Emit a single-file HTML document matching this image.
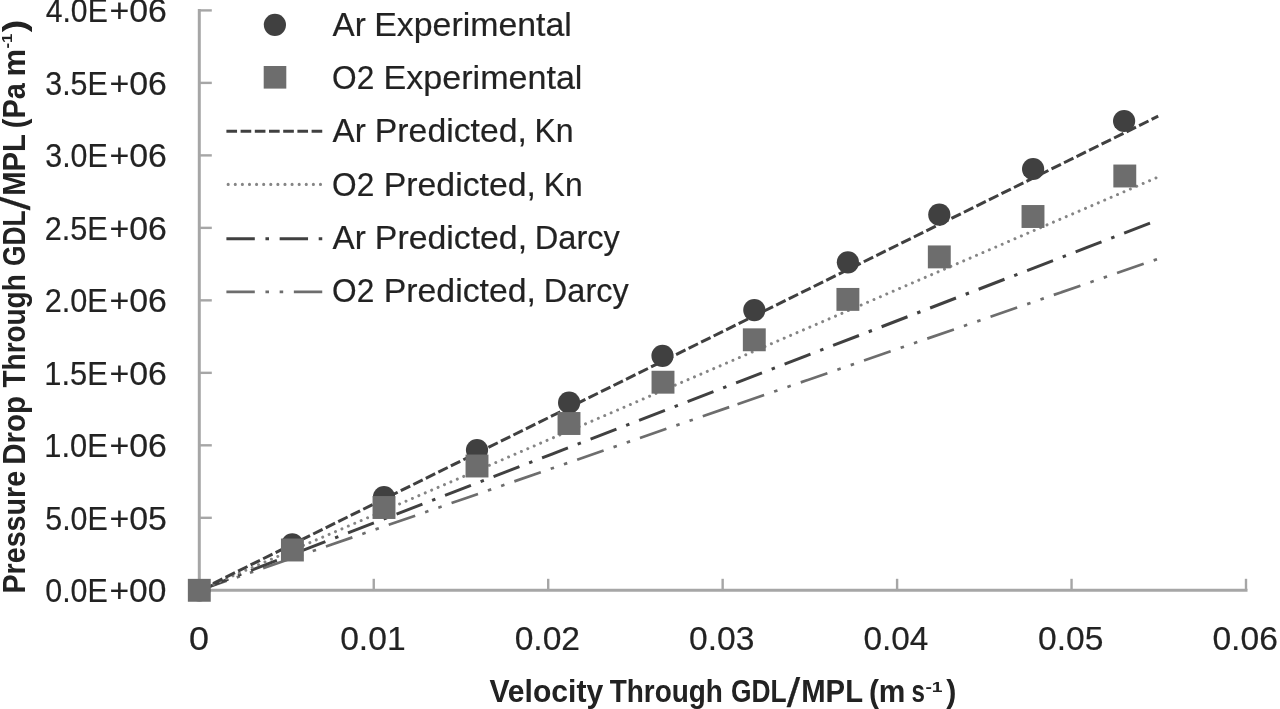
<!DOCTYPE html>
<html lang="en"><head><meta charset="utf-8"><title>Pressure Drop vs Velocity Through GDL/MPL</title>
<style>html,body{margin:0;padding:0;background:#fff;overflow:hidden}svg{display:block}</style></head>
<body>
<svg width="1280" height="709" viewBox="0 0 1280 709">
<defs><filter id="soft" x="-2%" y="-2%" width="104%" height="104%"><feGaussianBlur stdDeviation="0.7"/></filter></defs>
<rect width="100%" height="100%" fill="#fff"/>
<g filter="url(#soft)">
<g stroke="#a6a6a6" stroke-width="3" fill="none" stroke-linecap="butt">
<path d="M199.3 8.9 V591.8"/>
<path d="M197.8 590.3 H1247.5"/>
<path stroke-width="2.4" d="M199.3 517.81 H211.8"/>
<path stroke-width="2.4" d="M199.3 445.32 H211.8"/>
<path stroke-width="2.4" d="M199.3 372.84 H211.8"/>
<path stroke-width="2.4" d="M199.3 300.35 H211.8"/>
<path stroke-width="2.4" d="M199.3 227.86 H211.8"/>
<path stroke-width="2.4" d="M199.3 155.38 H211.8"/>
<path stroke-width="2.4" d="M199.3 82.89 H211.8"/>
<path stroke-width="2.4" d="M199.3 10.40 H211.8"/>
<path stroke-width="2.4" d="M373.75 590.3 V578.8"/>
<path stroke-width="2.4" d="M548.20 590.3 V578.8"/>
<path stroke-width="2.4" d="M722.65 590.3 V578.8"/>
<path stroke-width="2.4" d="M897.10 590.3 V578.8"/>
<path stroke-width="2.4" d="M1071.55 590.3 V578.8"/>
<path stroke-width="2.4" d="M1246.00 590.3 V578.8"/>
</g>
<path d="M199.3 590.3 L736.00 404.76" stroke="#6d6d6d" stroke-width="2.7" fill="none" stroke-dasharray="27.98 10.49 3.50 10.49 3.50 10.49" stroke-dashoffset="-1.1"/>
<path d="M737.50 404.24 L1158.2 258.8" stroke="#6d6d6d" stroke-width="2.7" fill="none" stroke-dasharray="28.18 10.57 3.52 10.57 3.52 10.57"/>
<path d="M199.3 590.3 L1158.2 219.9" stroke="#404040" stroke-width="3.0" fill="none" stroke-linecap="butt" stroke-dasharray="27.73 10.40 3.47 10.40" stroke-dashoffset="-3.45"/>
<path d="M199.3 590.3 L1158.2 177.0" stroke="#858585" stroke-width="3.0" fill="none" stroke-linecap="round" stroke-dasharray="0.01 6.97" stroke-dashoffset="-1.745"/>
<path d="M199.3 590.3 L1158.2 116.2" stroke="#404040" stroke-width="3.0" fill="none" stroke-linecap="butt" stroke-dasharray="10.47 3.49" stroke-dashoffset="-1.4"/>
<circle cx="199.3" cy="590.3" r="11.1" fill="#404040"/>
<circle cx="292.3" cy="544.4" r="11.1" fill="#404040"/>
<circle cx="384" cy="497" r="11.1" fill="#404040"/>
<circle cx="477" cy="450" r="11.1" fill="#404040"/>
<circle cx="569.1" cy="402.7" r="11.1" fill="#404040"/>
<circle cx="662.5" cy="355.8" r="11.1" fill="#404040"/>
<circle cx="754.3" cy="310.1" r="11.1" fill="#404040"/>
<circle cx="847.9" cy="262.3" r="11.1" fill="#404040"/>
<circle cx="939.3" cy="214.7" r="11.1" fill="#404040"/>
<circle cx="1033.1" cy="169" r="11.1" fill="#404040"/>
<circle cx="1124.1" cy="121" r="11.1" fill="#404040"/>
<rect x="187.85" y="578.85" width="22.9" height="22.9" fill="#6d6d6d"/>
<rect x="280.95" y="538.55" width="22.9" height="22.9" fill="#6d6d6d"/>
<rect x="372.55" y="496.05" width="22.9" height="22.9" fill="#6d6d6d"/>
<rect x="465.55" y="454.55" width="22.9" height="22.9" fill="#6d6d6d"/>
<rect x="557.55" y="412.05" width="22.9" height="22.9" fill="#6d6d6d"/>
<rect x="651.55" y="370.75" width="22.9" height="22.9" fill="#6d6d6d"/>
<rect x="742.85" y="328.35" width="22.9" height="22.9" fill="#6d6d6d"/>
<rect x="836.45" y="287.95" width="22.9" height="22.9" fill="#6d6d6d"/>
<rect x="927.85" y="245.45" width="22.9" height="22.9" fill="#6d6d6d"/>
<rect x="1021.55" y="205.05" width="22.9" height="22.9" fill="#6d6d6d"/>
<rect x="1113.35" y="164.55" width="22.9" height="22.9" fill="#6d6d6d"/>
<circle cx="274.9" cy="24.8" r="11.1" fill="#404040"/>
<rect x="263.7" y="66.0" width="22.6" height="22.6" fill="#6d6d6d"/>
<path d="M226.4 131.3 H322.6" stroke="#404040" stroke-width="3.0" stroke-dasharray="10.65 3.55"/>
<path d="M226.4 184.4 H322.6" stroke="#858585" stroke-width="3.1" stroke-linecap="round" stroke-dasharray="0.01 7.09" stroke-dashoffset="-1.775"/>
<path d="M226.4 238.8 H322.6" stroke="#404040" stroke-width="3.0" stroke-dasharray="28.40 10.65 3.55 10.65"/>
<path d="M226.4 291.8 H322.6" stroke="#6d6d6d" stroke-width="2.7" stroke-dasharray="28.40 10.65 3.55 10.65 3.55 10.65"/>
<g font-family="'Liberation Sans', sans-serif" font-size="34" fill="#242424" stroke="#242424" stroke-width="0.2" stroke-linejoin="round">
<text><tspan x="332.50" y="36.20" font-size="34" textLength="33.26" lengthAdjust="spacingAndGlyphs">Ar</tspan> <tspan x="374.26" y="36.20" font-size="34" textLength="197.58" lengthAdjust="spacingAndGlyphs">Experimental</tspan></text>
<text><tspan x="332.12" y="89.32" font-size="34" textLength="42.16" lengthAdjust="spacingAndGlyphs">O2</tspan> <tspan x="383.54" y="89.32" font-size="34" textLength="198.91" lengthAdjust="spacingAndGlyphs">Experimental</tspan></text>
<text><tspan x="332.50" y="142.44" font-size="34" textLength="33.26" lengthAdjust="spacingAndGlyphs">Ar</tspan> <tspan x="374.86" y="142.44" font-size="34" textLength="151.96" lengthAdjust="spacingAndGlyphs">Predicted,</tspan> <tspan x="534.50" y="142.44" font-size="34" textLength="39.20" lengthAdjust="spacingAndGlyphs">Kn</tspan></text>
<text><tspan x="332.12" y="195.56" font-size="34" textLength="42.16" lengthAdjust="spacingAndGlyphs">O2</tspan> <tspan x="383.76" y="195.56" font-size="34" textLength="152.27" lengthAdjust="spacingAndGlyphs">Predicted,</tspan> <tspan x="543.72" y="195.56" font-size="34" textLength="38.87" lengthAdjust="spacingAndGlyphs">Kn</tspan></text>
<text><tspan x="332.50" y="248.68" font-size="34" textLength="33.26" lengthAdjust="spacingAndGlyphs">Ar</tspan> <tspan x="374.86" y="248.68" font-size="34" textLength="152.17" lengthAdjust="spacingAndGlyphs">Predicted,</tspan> <tspan x="534.75" y="248.68" font-size="34" textLength="85.15" lengthAdjust="spacingAndGlyphs">Darcy</tspan></text>
<text><tspan x="332.12" y="301.80" font-size="34" textLength="42.16" lengthAdjust="spacingAndGlyphs">O2</tspan> <tspan x="383.76" y="301.80" font-size="34" textLength="152.27" lengthAdjust="spacingAndGlyphs">Predicted,</tspan> <tspan x="543.86" y="301.80" font-size="34" textLength="84.84" lengthAdjust="spacingAndGlyphs">Darcy</tspan></text>
<text><tspan x="45.73" y="22.30" font-size="34" textLength="62.04" lengthAdjust="spacingAndGlyphs">4.0E</tspan><tspan x="109.51" y="22.30" font-size="34" textLength="57.46" lengthAdjust="spacingAndGlyphs">+06</tspan></text>
<text><tspan x="45.25" y="94.79" font-size="34" textLength="62.53" lengthAdjust="spacingAndGlyphs">3.5E</tspan><tspan x="109.51" y="94.79" font-size="34" textLength="57.46" lengthAdjust="spacingAndGlyphs">+06</tspan></text>
<text><tspan x="45.25" y="167.28" font-size="34" textLength="62.53" lengthAdjust="spacingAndGlyphs">3.0E</tspan><tspan x="109.51" y="167.28" font-size="34" textLength="57.46" lengthAdjust="spacingAndGlyphs">+06</tspan></text>
<text><tspan x="44.76" y="239.76" font-size="34" textLength="63.02" lengthAdjust="spacingAndGlyphs">2.5E</tspan><tspan x="109.51" y="239.76" font-size="34" textLength="57.46" lengthAdjust="spacingAndGlyphs">+06</tspan></text>
<text><tspan x="44.76" y="312.25" font-size="34" textLength="63.02" lengthAdjust="spacingAndGlyphs">2.0E</tspan><tspan x="109.51" y="312.25" font-size="34" textLength="57.46" lengthAdjust="spacingAndGlyphs">+06</tspan></text>
<text><tspan x="44.27" y="384.74" font-size="34" textLength="63.53" lengthAdjust="spacingAndGlyphs">1.5E</tspan><tspan x="109.51" y="384.74" font-size="34" textLength="57.46" lengthAdjust="spacingAndGlyphs">+06</tspan></text>
<text><tspan x="44.27" y="457.22" font-size="34" textLength="63.53" lengthAdjust="spacingAndGlyphs">1.0E</tspan><tspan x="109.51" y="457.22" font-size="34" textLength="57.46" lengthAdjust="spacingAndGlyphs">+06</tspan></text>
<text><tspan x="45.25" y="529.71" font-size="34" textLength="62.53" lengthAdjust="spacingAndGlyphs">5.0E</tspan><tspan x="109.51" y="529.71" font-size="34" textLength="57.46" lengthAdjust="spacingAndGlyphs">+05</tspan></text>
<text><tspan x="45.25" y="602.20" font-size="34" textLength="62.53" lengthAdjust="spacingAndGlyphs">0.0E</tspan><tspan x="109.53" y="602.20" font-size="34" textLength="56.91" lengthAdjust="spacingAndGlyphs">+00</tspan></text>
<text><tspan x="189.07" y="650.00" font-size="34" textLength="20.02" lengthAdjust="spacingAndGlyphs">0</tspan></text>
<text><tspan x="340.20" y="650.00" font-size="34" textLength="65.41" lengthAdjust="spacingAndGlyphs">0.01</tspan></text>
<text><tspan x="514.65" y="650.00" font-size="34" textLength="65.41" lengthAdjust="spacingAndGlyphs">0.02</tspan></text>
<text><tspan x="689.10" y="650.00" font-size="34" textLength="65.41" lengthAdjust="spacingAndGlyphs">0.03</tspan></text>
<text><tspan x="863.56" y="650.00" font-size="34" textLength="64.87" lengthAdjust="spacingAndGlyphs">0.04</tspan></text>
<text><tspan x="1038.00" y="650.00" font-size="34" textLength="65.41" lengthAdjust="spacingAndGlyphs">0.05</tspan></text>
<text><tspan x="1212.45" y="650.00" font-size="34" textLength="65.41" lengthAdjust="spacingAndGlyphs">0.06</tspan></text>
<text fill="#202020" stroke="none"><tspan x="489.40" y="701.60" font-size="30.5" font-weight="bold" textLength="113.81" lengthAdjust="spacingAndGlyphs">Velocity</tspan> <tspan x="609.70" y="701.60" font-size="30.5" font-weight="bold" textLength="113.25" lengthAdjust="spacingAndGlyphs">Through</tspan> <tspan x="731.08" y="701.60" font-size="30.5" font-weight="bold" textLength="55.57" lengthAdjust="spacingAndGlyphs">GDL</tspan><tspan x="786.80" y="706.80" font-size="40" font-weight="normal" stroke="#202020" stroke-width="0.25" textLength="13.43" lengthAdjust="spacingAndGlyphs">/</tspan><tspan x="801.27" y="701.60" font-size="30.5" font-weight="bold" textLength="61.73" lengthAdjust="spacingAndGlyphs">MPL</tspan> <tspan x="868.90" y="701.60" font-size="30.5" font-weight="bold" textLength="36.52" lengthAdjust="spacingAndGlyphs">(m</tspan> <tspan x="911.55" y="701.60" font-size="30.5" font-weight="bold" textLength="13.43" lengthAdjust="spacingAndGlyphs">s</tspan><tspan x="925.40" y="692.20" font-size="14.5" font-weight="bold" textLength="17.19" lengthAdjust="spacingAndGlyphs">-1</tspan><tspan x="946.20" y="701.60" font-size="30.5" font-weight="bold" textLength="10.10" lengthAdjust="spacingAndGlyphs">)</tspan></text>
<text transform="rotate(-90)" fill="#202020" stroke="none"><tspan x="-593.59" y="24.90" font-size="30.5" font-weight="bold" textLength="122.81" lengthAdjust="spacingAndGlyphs">Pressure</tspan> <tspan x="-464.84" y="24.90" font-size="30.5" font-weight="bold" textLength="68.81" lengthAdjust="spacingAndGlyphs">Drop</tspan> <tspan x="-387.50" y="24.90" font-size="30.5" font-weight="bold" textLength="113.25" lengthAdjust="spacingAndGlyphs">Through</tspan> <tspan x="-266.12" y="24.90" font-size="30.5" font-weight="bold" textLength="55.68" lengthAdjust="spacingAndGlyphs">GDL</tspan><tspan x="-210.30" y="30.10" font-size="40" font-weight="normal" stroke="#202020" stroke-width="0.25" textLength="13.43" lengthAdjust="spacingAndGlyphs">/</tspan><tspan x="-195.83" y="24.90" font-size="30.5" font-weight="bold" textLength="61.83" lengthAdjust="spacingAndGlyphs">MPL</tspan> <tspan x="-128.15" y="24.90" font-size="30.5" font-weight="bold" textLength="44.97" lengthAdjust="spacingAndGlyphs">(Pa</tspan> <tspan x="-76.54" y="24.90" font-size="30.5" font-weight="bold" textLength="27.64" lengthAdjust="spacingAndGlyphs">m</tspan><tspan x="-48.53" y="12.30" font-size="14.5" font-weight="bold" textLength="14.94" lengthAdjust="spacingAndGlyphs">-1</tspan><tspan x="-32.20" y="24.90" font-size="30.5" font-weight="bold" textLength="12.56" lengthAdjust="spacingAndGlyphs">)</tspan></text>
</g>
</g></svg>
</body></html>
